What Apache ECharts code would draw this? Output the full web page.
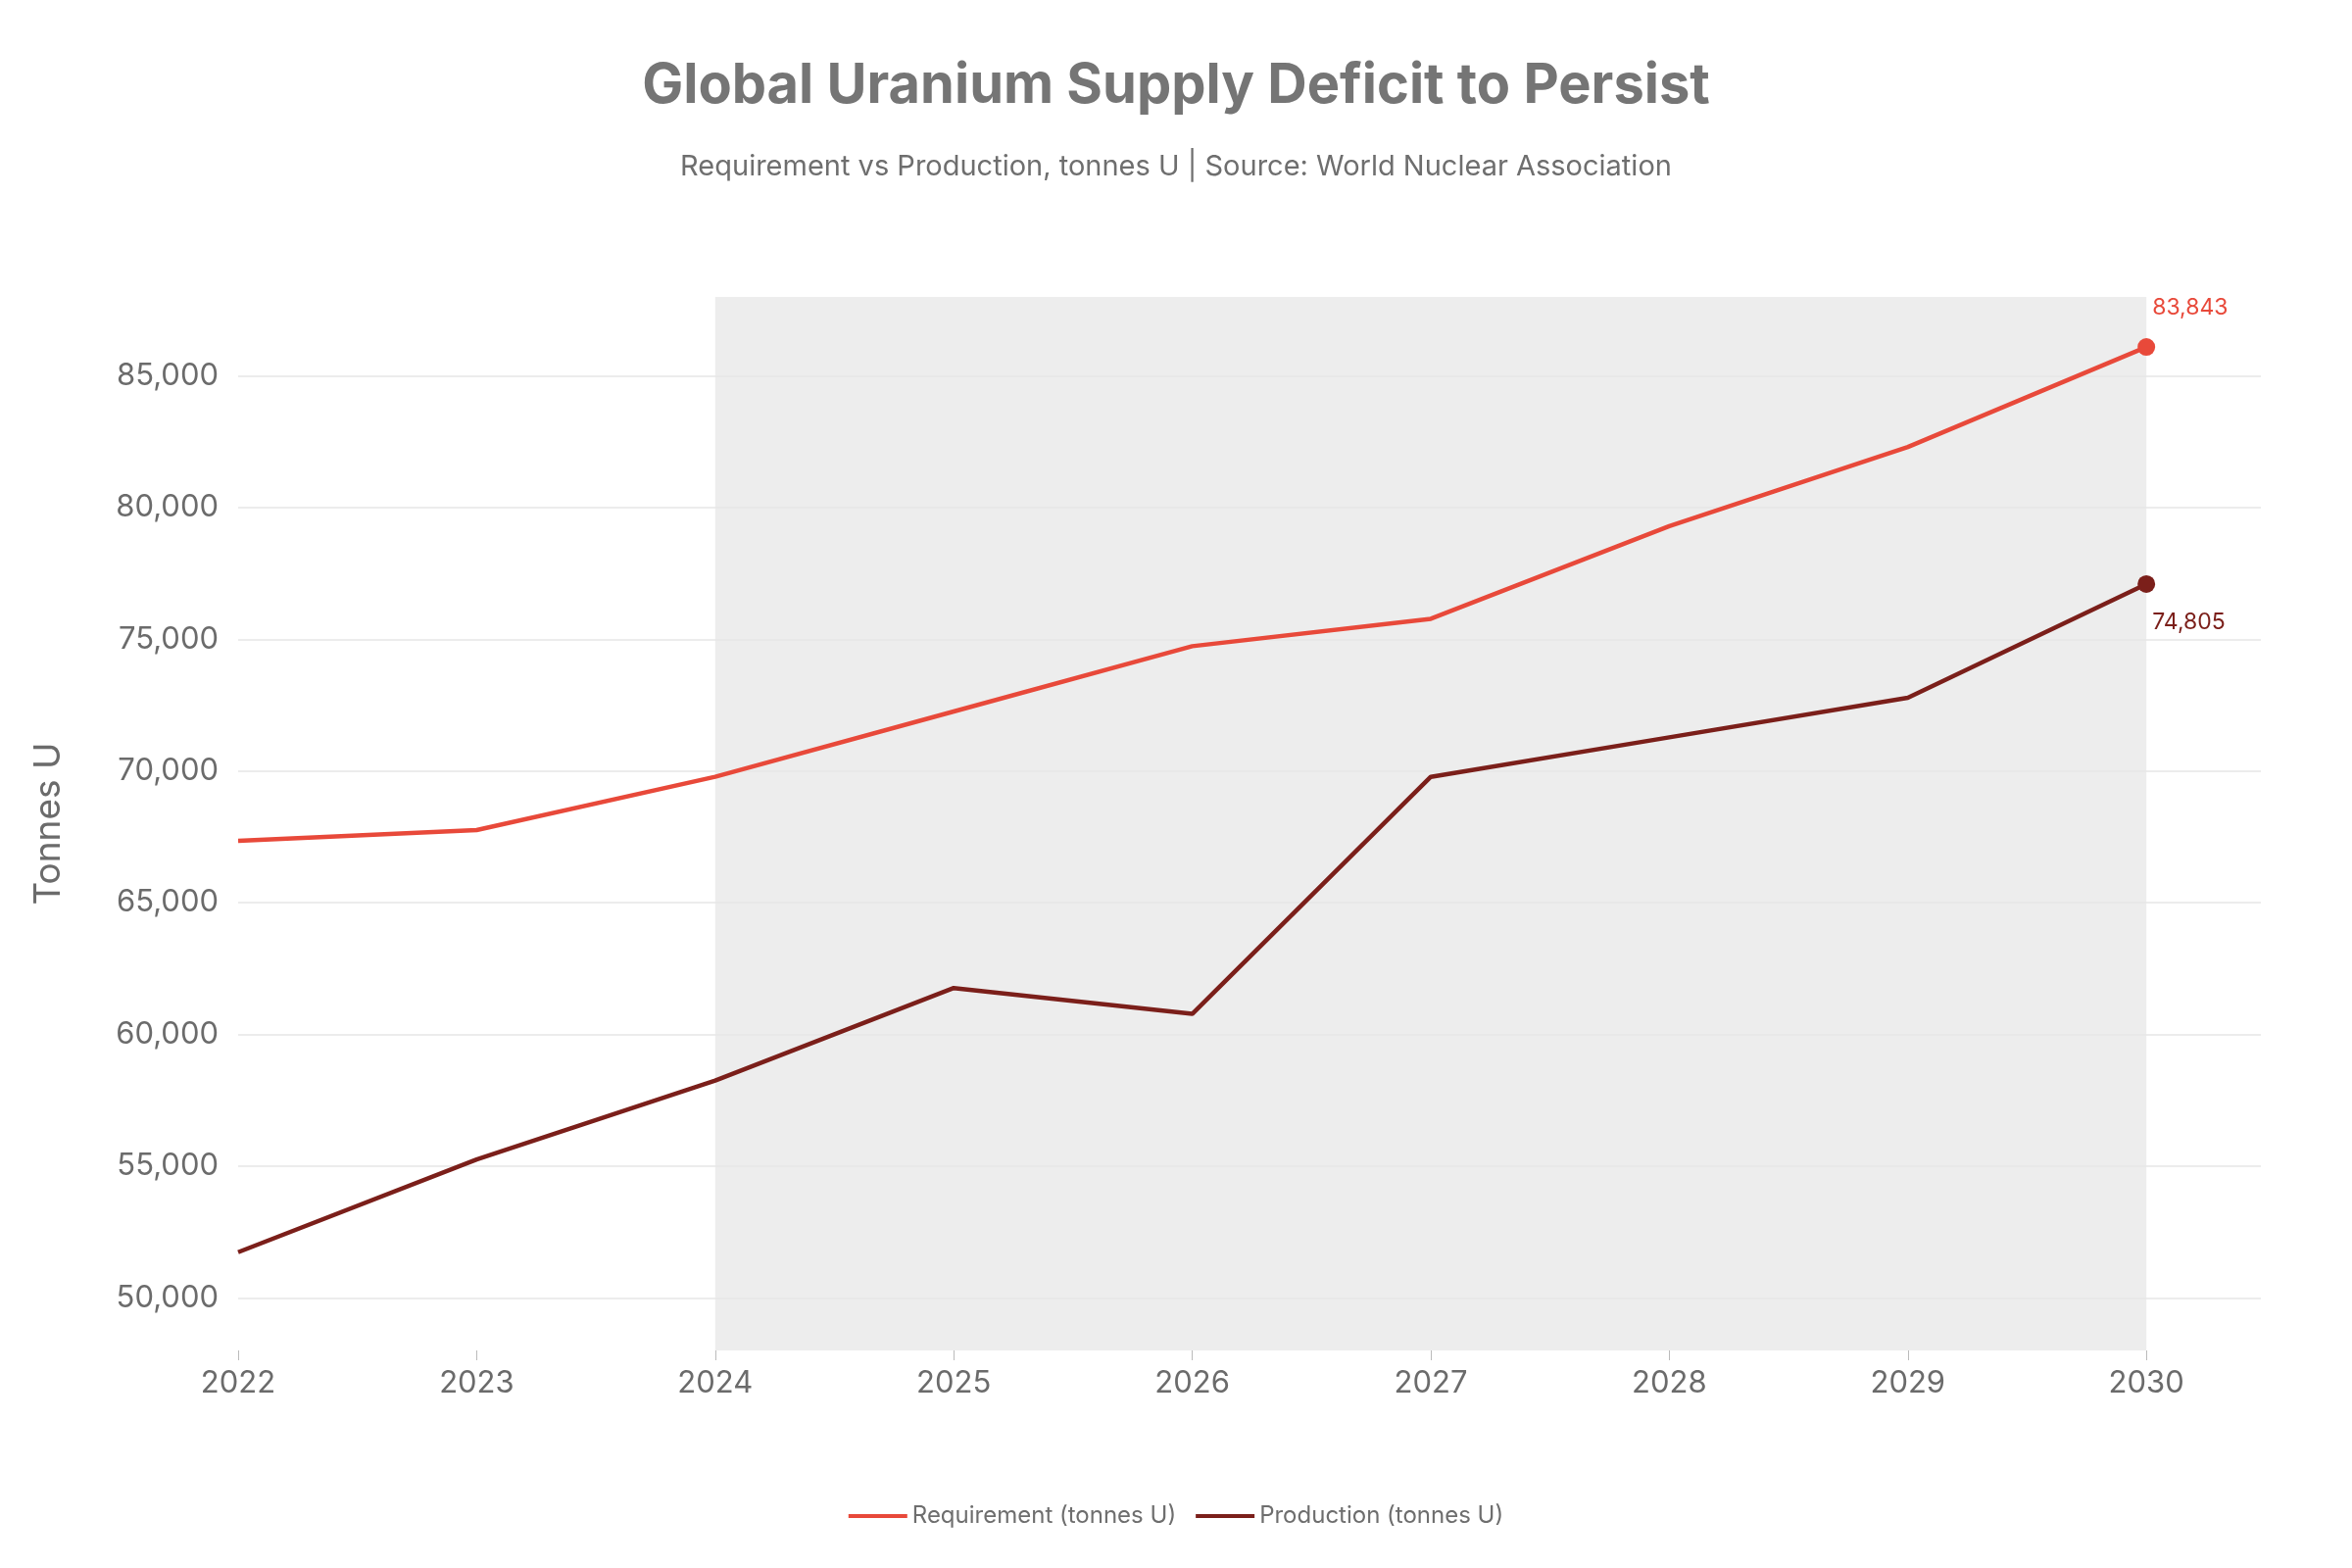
<!DOCTYPE html>
<html>
<head>
<meta charset="utf-8">
<script src="https://cdn.jsdelivr.net/npm/echarts@6/dist/echarts.min.js"></script>
<style>html,body{margin:0;padding:0;background:#fff}#chart{width:2400px;height:1600px}</style>
</head>
<body>
<div id="chart"></div>
<script>
var years = [2022, 2023, 2024, 2025, 2026, 2027, 2028, 2029, 2030];
var requirement = [67350, 67760, 69780, 72260, 74740, 75780, 79300, 82300, 86100];
var production = [51730, 55250, 58250, 61760, 60780, 69780, 71280, 72780, 77100];
var endLabels = ['83,843', '74,805'];
var gridValues = [50000, 55000, 60000, 65000, 70000, 75000, 80000, 85000];

var reqColor = '#e8493a';
var prodColor = '#7b1f1a';
var font = 'Inter, "Noto Sans", sans-serif';

function build(values, color, label, pos) {
  return values.map(function (v, i) {
    var p = { value: [years[i], v], symbol: 'none' };
    if (i === values.length - 1) {
      p.symbol = 'circle';
      p.symbolSize = 18;
      p.label = { show: true, position: pos, formatter: label, color: color, fontSize: 23, fontFamily: font, offset: [6, pos === 'top' ? -14 : 14], align: 'left' };
    }
    return p;
  });
}

var chart = echarts.init(document.getElementById('chart'));
chart.setOption({
  backgroundColor: '#fff',
  title: {
    text: 'Global Uranium Supply Deficit to Persist',
    subtext: 'Requirement vs Production, tonnes U | Source: World Nuclear Association',
    left: 'center', top: 55, itemGap: 40,
    textStyle: { fontSize: 56, fontWeight: 'bold', color: '#757575', fontFamily: font },
    subtextStyle: { fontSize: 29, color: '#6e6e6e', fontFamily: font }
  },
  legend: {
    bottom: 36, left: 'center', itemWidth: 60, itemHeight: 4, itemGap: 20,
    icon: 'rect',
    textStyle: { fontSize: 24, color: '#6e6e6e', fontFamily: font },
    data: ['Requirement (tonnes U)', 'Production (tonnes U)']
  },
  grid: { left: 243, right: 93, top: 303, bottom: 222 },
  xAxis: {
    type: 'value', min: 2022, max: 2030.48, interval: 1,
    axisLine: { show: false },
    axisTick: { show: true, length: 10, lineStyle: { color: '#bbb' } },
    splitLine: { show: false },
    axisLabel: { fontSize: 31, color: '#6b6b6b', fontFamily: font, margin: 18, showMaxLabel: false,
      formatter: function (v) { return Number.isInteger(v) ? String(v) : ''; } }
  },
  yAxis: {
    type: 'value', min: 48000, max: 88000, interval: 1000,
    name: 'Tonnes U', nameLocation: 'middle', nameGap: 175,
    nameTextStyle: { fontSize: 37, color: '#6b6b6b', fontFamily: font },
    axisLine: { show: false }, axisTick: { show: false },
    splitLine: { show: false },
    axisLabel: { fontSize: 31, color: '#6b6b6b', fontFamily: font, margin: 20,
      formatter: function (v) { return v % 5000 === 0 ? v.toLocaleString('en-US') : ''; } }
  },
  graphic: [{
    type: 'text', left: 1737, top: 1002,
    style: { text: '← area in gray\ndenotes forecast', fontSize: 21, lineHeight: 28, fill: '#808080', fontFamily: font }
  }],
  series: [
    {
      name: 'forecast', type: 'line', z: 1, data: [],
      markArea: {
        silent: true,
        itemStyle: { color: '#ededed' },
        data: [[{ xAxis: 2024, yAxis: 48000 }, { xAxis: 2030, yAxis: 88000 }]]
      },
      markLine: {
        silent: true, symbol: 'none', label: { show: false },
        lineStyle: { color: '#e6e6e6', width: 1.5, type: 'solid' },
        data: gridValues.map(function (v) { return { yAxis: v }; })
      }
    },
    {
      name: 'Requirement (tonnes U)', type: 'line', z: 5,
      lineStyle: { color: reqColor, width: 4.5 }, itemStyle: { color: reqColor },
      data: build(requirement, reqColor, endLabels[0], 'top')
    },
    {
      name: 'Production (tonnes U)', type: 'line', z: 5,
      lineStyle: { color: prodColor, width: 4.5 }, itemStyle: { color: prodColor },
      data: build(production, prodColor, endLabels[1], 'bottom')
    }
  ]
});
</script>
</body>
</html>
